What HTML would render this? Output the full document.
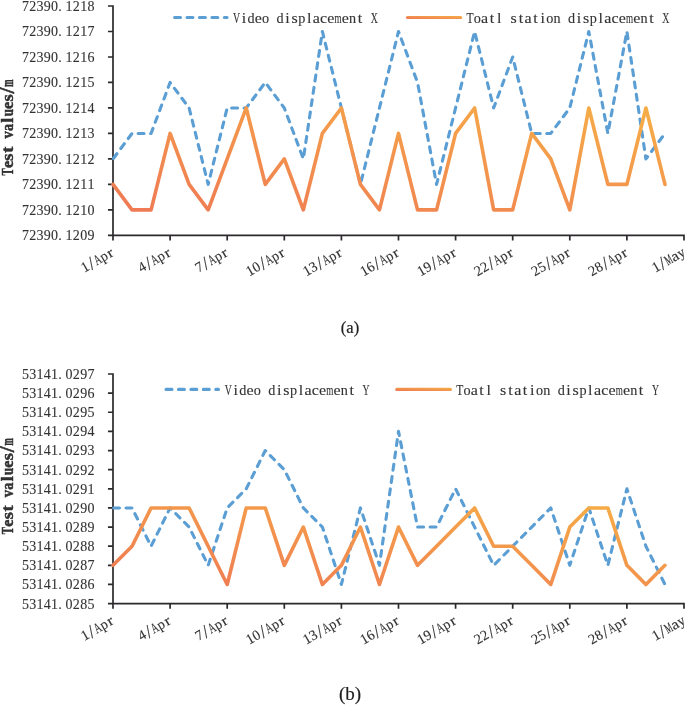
<!DOCTYPE html><html><head><meta charset="utf-8"><title>Displacement charts</title>
<style>html,body{margin:0;padding:0;background:#fff;}svg{display:block;}text{font-family:"Liberation Serif","Noto Serif CJK SC",serif;fill:#333333;}</style></head><body>
<svg width="685" height="706" viewBox="0 0 685 706">
<defs><linearGradient id="og" x1="0" y1="1" x2="1" y2="0"><stop offset="0" stop-color="#EF7954"/><stop offset="1" stop-color="#F6AE46"/></linearGradient></defs>
<rect width="685" height="706" fill="#fff"/>
<g transform="translate(94.56,240.30)" font-size="14" font-weight="normal" style="stroke:#333;stroke-width:0.1;"><text x="-72.66 -65.38 -58.10 -50.82 -43.54 -36.31 -28.98 -21.70 -14.42 -7.14" y="0 0 0 0 0 0 0 0 0 0">72390.1209</text></g>
<g transform="translate(94.56,214.81)" font-size="14" font-weight="normal" style="stroke:#333;stroke-width:0.1;"><text x="-72.66 -65.38 -58.10 -50.82 -43.54 -36.31 -28.98 -21.70 -14.42 -7.14" y="0 0 0 0 0 0 0 0 0 0">72390.1210</text></g>
<g transform="translate(94.56,189.32)" font-size="14" font-weight="normal" style="stroke:#333;stroke-width:0.1;"><text x="-72.66 -65.38 -58.10 -50.82 -43.54 -36.31 -28.98 -21.70 -14.42 -7.14" y="0 0 0 0 0 0 0 0 0 0">72390.1211</text></g>
<g transform="translate(94.56,163.83)" font-size="14" font-weight="normal" style="stroke:#333;stroke-width:0.1;"><text x="-72.66 -65.38 -58.10 -50.82 -43.54 -36.31 -28.98 -21.70 -14.42 -7.14" y="0 0 0 0 0 0 0 0 0 0">72390.1212</text></g>
<g transform="translate(94.56,138.34)" font-size="14" font-weight="normal" style="stroke:#333;stroke-width:0.1;"><text x="-72.66 -65.38 -58.10 -50.82 -43.54 -36.31 -28.98 -21.70 -14.42 -7.14" y="0 0 0 0 0 0 0 0 0 0">72390.1213</text></g>
<g transform="translate(94.56,112.86)" font-size="14" font-weight="normal" style="stroke:#333;stroke-width:0.1;"><text x="-72.66 -65.38 -58.10 -50.82 -43.54 -36.31 -28.98 -21.70 -14.42 -7.14" y="0 0 0 0 0 0 0 0 0 0">72390.1214</text></g>
<g transform="translate(94.56,87.37)" font-size="14" font-weight="normal" style="stroke:#333;stroke-width:0.1;"><text x="-72.66 -65.38 -58.10 -50.82 -43.54 -36.31 -28.98 -21.70 -14.42 -7.14" y="0 0 0 0 0 0 0 0 0 0">72390.1215</text></g>
<g transform="translate(94.56,61.88)" font-size="14" font-weight="normal" style="stroke:#333;stroke-width:0.1;"><text x="-72.66 -65.38 -58.10 -50.82 -43.54 -36.31 -28.98 -21.70 -14.42 -7.14" y="0 0 0 0 0 0 0 0 0 0">72390.1216</text></g>
<g transform="translate(94.56,36.39)" font-size="14" font-weight="normal" style="stroke:#333;stroke-width:0.1;"><text x="-72.66 -65.38 -58.10 -50.82 -43.54 -36.31 -28.98 -21.70 -14.42 -7.14" y="0 0 0 0 0 0 0 0 0 0">72390.1217</text></g>
<g transform="translate(94.56,10.90)" font-size="14" font-weight="normal" style="stroke:#333;stroke-width:0.1;"><text x="-72.66 -65.38 -58.10 -50.82 -43.54 -36.31 -28.98 -21.70 -14.42 -7.14" y="0 0 0 0 0 0 0 0 0 0">72390.1218</text></g>
<g transform="translate(12.60,127.50) rotate(-90) scale(1.15,1)" font-size="16" font-weight="bold" style="fill:#262626;stroke:#262626;stroke-width:0.45;"><text x="-41.76 -35.33 -28.85 -21.97 -14.87 -9.59 -3.15 4.21 9.72 16.15 22.63 29.62 35.46" y="0 0 0 0 0 0 0 0 0 0 0 1.76 0"><tspan textLength="6.31" lengthAdjust="spacingAndGlyphs">T</tspan><tspan textLength="6.31" lengthAdjust="spacingAndGlyphs">e</tspan>st <tspan textLength="6.31" lengthAdjust="spacingAndGlyphs">v</tspan><tspan textLength="6.31" lengthAdjust="spacingAndGlyphs">a</tspan>l<tspan textLength="6.31" lengthAdjust="spacingAndGlyphs">u</tspan><tspan textLength="6.31" lengthAdjust="spacingAndGlyphs">e</tspan>s<tspan font-size="21.12" textLength="5.11" lengthAdjust="spacingAndGlyphs">/</tspan><tspan textLength="6.31" lengthAdjust="spacingAndGlyphs">m</tspan></text></g>
<path d="M113,6.00 V239.60 M108.8,235.40 H684 M108.8,235.40 H113 M108.8,209.91 H113 M108.8,184.42 H113 M108.8,158.93 H113 M108.8,133.44 H113 M108.8,107.96 H113 M108.8,82.47 H113 M108.8,56.98 H113 M108.8,31.49 H113 M108.8,6.00 H113 M113.00,235.40 V239.60 M170.10,235.40 V239.60 M227.20,235.40 V239.60 M284.30,235.40 V239.60 M341.40,235.40 V239.60 M398.50,235.40 V239.60 M455.59,235.40 V239.60 M512.69,235.40 V239.60 M569.79,235.40 V239.60 M626.89,235.40 V239.60 M683.99,235.40 V239.60" stroke="#2c292c" stroke-width="1.7" fill="none" stroke-linecap="square"/>
<g transform="translate(115.50,254.76) rotate(-30) scale(1.12,1)" font-size="14.3" font-weight="normal" style="stroke:#333;stroke-width:0.12;"><text x="-32.30 -24.94 -19.35 -12.88 -5.62" y="0 1.57 0 0 0"><tspan textLength="6.34" lengthAdjust="spacingAndGlyphs">1</tspan><tspan font-size="18.876" textLength="4.57" lengthAdjust="spacingAndGlyphs">/</tspan><tspan textLength="6.34" lengthAdjust="spacingAndGlyphs">A</tspan><tspan textLength="6.34" lengthAdjust="spacingAndGlyphs">p</tspan>r</text></g>
<g transform="translate(172.60,254.76) rotate(-30) scale(1.12,1)" font-size="14.3" font-weight="normal" style="stroke:#333;stroke-width:0.12;"><text x="-32.30 -24.94 -19.35 -12.88 -5.62" y="0 1.57 0 0 0"><tspan textLength="6.34" lengthAdjust="spacingAndGlyphs">4</tspan><tspan font-size="18.876" textLength="4.57" lengthAdjust="spacingAndGlyphs">/</tspan><tspan textLength="6.34" lengthAdjust="spacingAndGlyphs">A</tspan><tspan textLength="6.34" lengthAdjust="spacingAndGlyphs">p</tspan>r</text></g>
<g transform="translate(229.70,254.76) rotate(-30) scale(1.12,1)" font-size="14.3" font-weight="normal" style="stroke:#333;stroke-width:0.12;"><text x="-32.30 -24.94 -19.35 -12.88 -5.62" y="0 1.57 0 0 0"><tspan textLength="6.34" lengthAdjust="spacingAndGlyphs">7</tspan><tspan font-size="18.876" textLength="4.57" lengthAdjust="spacingAndGlyphs">/</tspan><tspan textLength="6.34" lengthAdjust="spacingAndGlyphs">A</tspan><tspan textLength="6.34" lengthAdjust="spacingAndGlyphs">p</tspan>r</text></g>
<g transform="translate(286.80,254.76) rotate(-30) scale(1.12,1)" font-size="14.3" font-weight="normal" style="stroke:#333;stroke-width:0.12;"><text x="-38.77 -32.30 -24.94 -19.35 -12.88 -5.62" y="0 0 1.57 0 0 0"><tspan textLength="6.34" lengthAdjust="spacingAndGlyphs">1</tspan><tspan textLength="6.34" lengthAdjust="spacingAndGlyphs">0</tspan><tspan font-size="18.876" textLength="4.57" lengthAdjust="spacingAndGlyphs">/</tspan><tspan textLength="6.34" lengthAdjust="spacingAndGlyphs">A</tspan><tspan textLength="6.34" lengthAdjust="spacingAndGlyphs">p</tspan>r</text></g>
<g transform="translate(343.90,254.76) rotate(-30) scale(1.12,1)" font-size="14.3" font-weight="normal" style="stroke:#333;stroke-width:0.12;"><text x="-38.77 -32.30 -24.94 -19.35 -12.88 -5.62" y="0 0 1.57 0 0 0"><tspan textLength="6.34" lengthAdjust="spacingAndGlyphs">1</tspan><tspan textLength="6.34" lengthAdjust="spacingAndGlyphs">3</tspan><tspan font-size="18.876" textLength="4.57" lengthAdjust="spacingAndGlyphs">/</tspan><tspan textLength="6.34" lengthAdjust="spacingAndGlyphs">A</tspan><tspan textLength="6.34" lengthAdjust="spacingAndGlyphs">p</tspan>r</text></g>
<g transform="translate(401.00,254.76) rotate(-30) scale(1.12,1)" font-size="14.3" font-weight="normal" style="stroke:#333;stroke-width:0.12;"><text x="-38.77 -32.30 -24.94 -19.35 -12.88 -5.62" y="0 0 1.57 0 0 0"><tspan textLength="6.34" lengthAdjust="spacingAndGlyphs">1</tspan><tspan textLength="6.34" lengthAdjust="spacingAndGlyphs">6</tspan><tspan font-size="18.876" textLength="4.57" lengthAdjust="spacingAndGlyphs">/</tspan><tspan textLength="6.34" lengthAdjust="spacingAndGlyphs">A</tspan><tspan textLength="6.34" lengthAdjust="spacingAndGlyphs">p</tspan>r</text></g>
<g transform="translate(458.09,254.76) rotate(-30) scale(1.12,1)" font-size="14.3" font-weight="normal" style="stroke:#333;stroke-width:0.12;"><text x="-38.77 -32.30 -24.94 -19.35 -12.88 -5.62" y="0 0 1.57 0 0 0"><tspan textLength="6.34" lengthAdjust="spacingAndGlyphs">1</tspan><tspan textLength="6.34" lengthAdjust="spacingAndGlyphs">9</tspan><tspan font-size="18.876" textLength="4.57" lengthAdjust="spacingAndGlyphs">/</tspan><tspan textLength="6.34" lengthAdjust="spacingAndGlyphs">A</tspan><tspan textLength="6.34" lengthAdjust="spacingAndGlyphs">p</tspan>r</text></g>
<g transform="translate(515.19,254.76) rotate(-30) scale(1.12,1)" font-size="14.3" font-weight="normal" style="stroke:#333;stroke-width:0.12;"><text x="-38.77 -32.30 -24.94 -19.35 -12.88 -5.62" y="0 0 1.57 0 0 0"><tspan textLength="6.34" lengthAdjust="spacingAndGlyphs">2</tspan><tspan textLength="6.34" lengthAdjust="spacingAndGlyphs">2</tspan><tspan font-size="18.876" textLength="4.57" lengthAdjust="spacingAndGlyphs">/</tspan><tspan textLength="6.34" lengthAdjust="spacingAndGlyphs">A</tspan><tspan textLength="6.34" lengthAdjust="spacingAndGlyphs">p</tspan>r</text></g>
<g transform="translate(572.29,254.76) rotate(-30) scale(1.12,1)" font-size="14.3" font-weight="normal" style="stroke:#333;stroke-width:0.12;"><text x="-38.77 -32.30 -24.94 -19.35 -12.88 -5.62" y="0 0 1.57 0 0 0"><tspan textLength="6.34" lengthAdjust="spacingAndGlyphs">2</tspan><tspan textLength="6.34" lengthAdjust="spacingAndGlyphs">5</tspan><tspan font-size="18.876" textLength="4.57" lengthAdjust="spacingAndGlyphs">/</tspan><tspan textLength="6.34" lengthAdjust="spacingAndGlyphs">A</tspan><tspan textLength="6.34" lengthAdjust="spacingAndGlyphs">p</tspan>r</text></g>
<g transform="translate(629.39,254.76) rotate(-30) scale(1.12,1)" font-size="14.3" font-weight="normal" style="stroke:#333;stroke-width:0.12;"><text x="-38.77 -32.30 -24.94 -19.35 -12.88 -5.62" y="0 0 1.57 0 0 0"><tspan textLength="6.34" lengthAdjust="spacingAndGlyphs">2</tspan><tspan textLength="6.34" lengthAdjust="spacingAndGlyphs">8</tspan><tspan font-size="18.876" textLength="4.57" lengthAdjust="spacingAndGlyphs">/</tspan><tspan textLength="6.34" lengthAdjust="spacingAndGlyphs">A</tspan><tspan textLength="6.34" lengthAdjust="spacingAndGlyphs">p</tspan>r</text></g>
<g transform="translate(686.49,254.76) rotate(-30) scale(1.12,1)" font-size="14.3" font-weight="normal" style="stroke:#333;stroke-width:0.12;"><text x="-32.30 -24.94 -19.35 -12.88 -6.41" y="0 1.57 0 0 0"><tspan textLength="6.34" lengthAdjust="spacingAndGlyphs">1</tspan><tspan font-size="18.876" textLength="4.57" lengthAdjust="spacingAndGlyphs">/</tspan><tspan textLength="6.34" lengthAdjust="spacingAndGlyphs">M</tspan><tspan textLength="6.34" lengthAdjust="spacingAndGlyphs">a</tspan><tspan textLength="6.34" lengthAdjust="spacingAndGlyphs">y</tspan></text></g>
<polyline points="113.00,158.93 132.03,133.44 151.07,133.44 170.10,82.47 189.13,107.96 208.17,184.42 227.20,107.96 246.23,107.96 265.26,82.47 284.30,107.96 303.33,158.93 322.36,31.49 341.40,107.96 360.43,184.42 379.46,107.96 398.50,31.49 417.53,82.47 436.56,184.42 455.59,107.96 474.63,31.49 493.66,107.96 512.69,56.98 531.73,133.44 550.76,133.44 569.79,107.96 588.83,31.49 607.86,133.44 626.89,31.49 645.92,158.93 664.96,133.44" fill="none" stroke="#5A9ED4" stroke-width="3.1" stroke-linejoin="round" stroke-linecap="round" stroke-dasharray="5.9 6.538" stroke-dashoffset="-0.6"/>
<polyline points="113.00,184.42 132.03,209.91 151.07,209.91 170.10,133.44 189.13,184.42 208.17,209.91 227.20,158.93 246.23,107.96 265.26,184.42 284.30,158.93 303.33,209.91 322.36,133.44 341.40,107.96 360.43,184.42 379.46,209.91 398.50,133.44 417.53,209.91 436.56,209.91 455.59,133.44 474.63,107.96 493.66,209.91 512.69,209.91 531.73,133.44 550.76,158.93 569.79,209.91 588.83,107.96 607.86,184.42 626.89,184.42 645.92,107.96 664.96,184.42" fill="none" stroke="url(#og)" stroke-width="3.6" stroke-linejoin="round" stroke-linecap="round"/>
<path d="M174.60,17.50 H227.05" stroke="#5A9ED4" stroke-width="3.1" stroke-linecap="round" stroke-dasharray="5.9 6.538"/>
<g transform="translate(233.00,22.80) scale(1.12,1)" font-size="14.3" font-weight="normal" style="stroke:#333;stroke-width:0.12;"><text x="0.06 7.72 13.01 19.48 25.96 33.82 38.90 46.56 52.24 58.32 65.98 71.27 77.74 84.22 90.69 97.16 103.64 111.29 117.97 123.06" y="0 0 0 0 0 0 0 0 0 0 0 0 0 0 0 0 0 0 0 0"><tspan textLength="6.34" lengthAdjust="spacingAndGlyphs">V</tspan>i<tspan textLength="6.34" lengthAdjust="spacingAndGlyphs">d</tspan><tspan textLength="6.34" lengthAdjust="spacingAndGlyphs">e</tspan><tspan textLength="6.34" lengthAdjust="spacingAndGlyphs">o</tspan> <tspan textLength="6.34" lengthAdjust="spacingAndGlyphs">d</tspan>is<tspan textLength="6.34" lengthAdjust="spacingAndGlyphs">p</tspan>l<tspan textLength="6.34" lengthAdjust="spacingAndGlyphs">a</tspan><tspan textLength="6.34" lengthAdjust="spacingAndGlyphs">c</tspan><tspan textLength="6.34" lengthAdjust="spacingAndGlyphs">e</tspan><tspan textLength="6.34" lengthAdjust="spacingAndGlyphs">m</tspan><tspan textLength="6.34" lengthAdjust="spacingAndGlyphs">e</tspan><tspan textLength="6.34" lengthAdjust="spacingAndGlyphs">n</tspan>t <tspan textLength="6.34" lengthAdjust="spacingAndGlyphs">X</tspan></text></g>
<rect x="405.90" y="15.90" width="56.30" height="3.2" rx="1.6" fill="url(#og)"/>
<g transform="translate(466.50,22.80) scale(1.12,1)" font-size="14.3" font-weight="normal" style="stroke:#333;stroke-width:0.12;"><text x="0.06 6.54 13.01 20.67 27.14 33.82 39.29 46.56 51.85 59.51 65.98 71.27 77.74 85.60 90.69 98.35 104.03 110.11 117.77 123.06 129.53 136.00 142.48 148.95 155.42 163.08 169.75 174.84" y="0 0 0 0 0 0 0 0 0 0 0 0 0 0 0 0 0 0 0 0 0 0 0 0 0 0 0 0"><tspan textLength="6.34" lengthAdjust="spacingAndGlyphs">T</tspan><tspan textLength="6.34" lengthAdjust="spacingAndGlyphs">o</tspan><tspan textLength="6.34" lengthAdjust="spacingAndGlyphs">a</tspan>tl st<tspan textLength="6.34" lengthAdjust="spacingAndGlyphs">a</tspan>ti<tspan textLength="6.34" lengthAdjust="spacingAndGlyphs">o</tspan><tspan textLength="6.34" lengthAdjust="spacingAndGlyphs">n</tspan> <tspan textLength="6.34" lengthAdjust="spacingAndGlyphs">d</tspan>is<tspan textLength="6.34" lengthAdjust="spacingAndGlyphs">p</tspan>l<tspan textLength="6.34" lengthAdjust="spacingAndGlyphs">a</tspan><tspan textLength="6.34" lengthAdjust="spacingAndGlyphs">c</tspan><tspan textLength="6.34" lengthAdjust="spacingAndGlyphs">e</tspan><tspan textLength="6.34" lengthAdjust="spacingAndGlyphs">m</tspan><tspan textLength="6.34" lengthAdjust="spacingAndGlyphs">e</tspan><tspan textLength="6.34" lengthAdjust="spacingAndGlyphs">n</tspan>t <tspan textLength="6.34" lengthAdjust="spacingAndGlyphs">X</tspan></text></g>
<text x="350" y="333.4" font-size="16.6" text-anchor="middle" style="fill:#1e1e1e;stroke:#1e1e1e;stroke-width:0.2">(a)</text>
<g transform="translate(94.56,608.50)" font-size="14" font-weight="normal" style="stroke:#333;stroke-width:0.1;"><text x="-72.66 -65.38 -58.10 -50.82 -43.54 -36.31 -28.98 -21.70 -14.42 -7.14" y="0 0 0 0 0 0 0 0 0 0">53141.0285</text></g>
<g transform="translate(94.56,589.37)" font-size="14" font-weight="normal" style="stroke:#333;stroke-width:0.1;"><text x="-72.66 -65.38 -58.10 -50.82 -43.54 -36.31 -28.98 -21.70 -14.42 -7.14" y="0 0 0 0 0 0 0 0 0 0">53141.0286</text></g>
<g transform="translate(94.56,570.23)" font-size="14" font-weight="normal" style="stroke:#333;stroke-width:0.1;"><text x="-72.66 -65.38 -58.10 -50.82 -43.54 -36.31 -28.98 -21.70 -14.42 -7.14" y="0 0 0 0 0 0 0 0 0 0">53141.0287</text></g>
<g transform="translate(94.56,551.10)" font-size="14" font-weight="normal" style="stroke:#333;stroke-width:0.1;"><text x="-72.66 -65.38 -58.10 -50.82 -43.54 -36.31 -28.98 -21.70 -14.42 -7.14" y="0 0 0 0 0 0 0 0 0 0">53141.0288</text></g>
<g transform="translate(94.56,531.97)" font-size="14" font-weight="normal" style="stroke:#333;stroke-width:0.1;"><text x="-72.66 -65.38 -58.10 -50.82 -43.54 -36.31 -28.98 -21.70 -14.42 -7.14" y="0 0 0 0 0 0 0 0 0 0">53141.0289</text></g>
<g transform="translate(94.56,512.83)" font-size="14" font-weight="normal" style="stroke:#333;stroke-width:0.1;"><text x="-72.66 -65.38 -58.10 -50.82 -43.54 -36.31 -28.98 -21.70 -14.42 -7.14" y="0 0 0 0 0 0 0 0 0 0">53141.0290</text></g>
<g transform="translate(94.56,493.70)" font-size="14" font-weight="normal" style="stroke:#333;stroke-width:0.1;"><text x="-72.66 -65.38 -58.10 -50.82 -43.54 -36.31 -28.98 -21.70 -14.42 -7.14" y="0 0 0 0 0 0 0 0 0 0">53141.0291</text></g>
<g transform="translate(94.56,474.57)" font-size="14" font-weight="normal" style="stroke:#333;stroke-width:0.1;"><text x="-72.66 -65.38 -58.10 -50.82 -43.54 -36.31 -28.98 -21.70 -14.42 -7.14" y="0 0 0 0 0 0 0 0 0 0">53141.0292</text></g>
<g transform="translate(94.56,455.43)" font-size="14" font-weight="normal" style="stroke:#333;stroke-width:0.1;"><text x="-72.66 -65.38 -58.10 -50.82 -43.54 -36.31 -28.98 -21.70 -14.42 -7.14" y="0 0 0 0 0 0 0 0 0 0">53141.0293</text></g>
<g transform="translate(94.56,436.30)" font-size="14" font-weight="normal" style="stroke:#333;stroke-width:0.1;"><text x="-72.66 -65.38 -58.10 -50.82 -43.54 -36.31 -28.98 -21.70 -14.42 -7.14" y="0 0 0 0 0 0 0 0 0 0">53141.0294</text></g>
<g transform="translate(94.56,417.17)" font-size="14" font-weight="normal" style="stroke:#333;stroke-width:0.1;"><text x="-72.66 -65.38 -58.10 -50.82 -43.54 -36.31 -28.98 -21.70 -14.42 -7.14" y="0 0 0 0 0 0 0 0 0 0">53141.0295</text></g>
<g transform="translate(94.56,398.03)" font-size="14" font-weight="normal" style="stroke:#333;stroke-width:0.1;"><text x="-72.66 -65.38 -58.10 -50.82 -43.54 -36.31 -28.98 -21.70 -14.42 -7.14" y="0 0 0 0 0 0 0 0 0 0">53141.0296</text></g>
<g transform="translate(94.56,378.90)" font-size="14" font-weight="normal" style="stroke:#333;stroke-width:0.1;"><text x="-72.66 -65.38 -58.10 -50.82 -43.54 -36.31 -28.98 -21.70 -14.42 -7.14" y="0 0 0 0 0 0 0 0 0 0">53141.0297</text></g>
<g transform="translate(12.60,486.20) rotate(-90) scale(1.15,1)" font-size="16" font-weight="bold" style="fill:#262626;stroke:#262626;stroke-width:0.45;"><text x="-41.76 -35.33 -28.85 -21.97 -14.87 -9.59 -3.15 4.21 9.72 16.15 22.63 29.62 35.46" y="0 0 0 0 0 0 0 0 0 0 0 1.76 0"><tspan textLength="6.31" lengthAdjust="spacingAndGlyphs">T</tspan><tspan textLength="6.31" lengthAdjust="spacingAndGlyphs">e</tspan>st <tspan textLength="6.31" lengthAdjust="spacingAndGlyphs">v</tspan><tspan textLength="6.31" lengthAdjust="spacingAndGlyphs">a</tspan>l<tspan textLength="6.31" lengthAdjust="spacingAndGlyphs">u</tspan><tspan textLength="6.31" lengthAdjust="spacingAndGlyphs">e</tspan>s<tspan font-size="21.12" textLength="5.11" lengthAdjust="spacingAndGlyphs">/</tspan><tspan textLength="6.31" lengthAdjust="spacingAndGlyphs">m</tspan></text></g>
<path d="M113,374.00 V607.80 M108.8,603.60 H684 M108.8,603.60 H113 M108.8,584.47 H113 M108.8,565.33 H113 M108.8,546.20 H113 M108.8,527.07 H113 M108.8,507.93 H113 M108.8,488.80 H113 M108.8,469.67 H113 M108.8,450.53 H113 M108.8,431.40 H113 M108.8,412.27 H113 M108.8,393.13 H113 M108.8,374.00 H113 M113.00,603.60 V607.80 M170.10,603.60 V607.80 M227.20,603.60 V607.80 M284.30,603.60 V607.80 M341.40,603.60 V607.80 M398.50,603.60 V607.80 M455.59,603.60 V607.80 M512.69,603.60 V607.80 M569.79,603.60 V607.80 M626.89,603.60 V607.80 M683.99,603.60 V607.80" stroke="#2c292c" stroke-width="1.7" fill="none" stroke-linecap="square"/>
<g transform="translate(115.50,622.96) rotate(-30) scale(1.12,1)" font-size="14.3" font-weight="normal" style="stroke:#333;stroke-width:0.12;"><text x="-32.30 -24.94 -19.35 -12.88 -5.62" y="0 1.57 0 0 0"><tspan textLength="6.34" lengthAdjust="spacingAndGlyphs">1</tspan><tspan font-size="18.876" textLength="4.57" lengthAdjust="spacingAndGlyphs">/</tspan><tspan textLength="6.34" lengthAdjust="spacingAndGlyphs">A</tspan><tspan textLength="6.34" lengthAdjust="spacingAndGlyphs">p</tspan>r</text></g>
<g transform="translate(172.60,622.96) rotate(-30) scale(1.12,1)" font-size="14.3" font-weight="normal" style="stroke:#333;stroke-width:0.12;"><text x="-32.30 -24.94 -19.35 -12.88 -5.62" y="0 1.57 0 0 0"><tspan textLength="6.34" lengthAdjust="spacingAndGlyphs">4</tspan><tspan font-size="18.876" textLength="4.57" lengthAdjust="spacingAndGlyphs">/</tspan><tspan textLength="6.34" lengthAdjust="spacingAndGlyphs">A</tspan><tspan textLength="6.34" lengthAdjust="spacingAndGlyphs">p</tspan>r</text></g>
<g transform="translate(229.70,622.96) rotate(-30) scale(1.12,1)" font-size="14.3" font-weight="normal" style="stroke:#333;stroke-width:0.12;"><text x="-32.30 -24.94 -19.35 -12.88 -5.62" y="0 1.57 0 0 0"><tspan textLength="6.34" lengthAdjust="spacingAndGlyphs">7</tspan><tspan font-size="18.876" textLength="4.57" lengthAdjust="spacingAndGlyphs">/</tspan><tspan textLength="6.34" lengthAdjust="spacingAndGlyphs">A</tspan><tspan textLength="6.34" lengthAdjust="spacingAndGlyphs">p</tspan>r</text></g>
<g transform="translate(286.80,622.96) rotate(-30) scale(1.12,1)" font-size="14.3" font-weight="normal" style="stroke:#333;stroke-width:0.12;"><text x="-38.77 -32.30 -24.94 -19.35 -12.88 -5.62" y="0 0 1.57 0 0 0"><tspan textLength="6.34" lengthAdjust="spacingAndGlyphs">1</tspan><tspan textLength="6.34" lengthAdjust="spacingAndGlyphs">0</tspan><tspan font-size="18.876" textLength="4.57" lengthAdjust="spacingAndGlyphs">/</tspan><tspan textLength="6.34" lengthAdjust="spacingAndGlyphs">A</tspan><tspan textLength="6.34" lengthAdjust="spacingAndGlyphs">p</tspan>r</text></g>
<g transform="translate(343.90,622.96) rotate(-30) scale(1.12,1)" font-size="14.3" font-weight="normal" style="stroke:#333;stroke-width:0.12;"><text x="-38.77 -32.30 -24.94 -19.35 -12.88 -5.62" y="0 0 1.57 0 0 0"><tspan textLength="6.34" lengthAdjust="spacingAndGlyphs">1</tspan><tspan textLength="6.34" lengthAdjust="spacingAndGlyphs">3</tspan><tspan font-size="18.876" textLength="4.57" lengthAdjust="spacingAndGlyphs">/</tspan><tspan textLength="6.34" lengthAdjust="spacingAndGlyphs">A</tspan><tspan textLength="6.34" lengthAdjust="spacingAndGlyphs">p</tspan>r</text></g>
<g transform="translate(401.00,622.96) rotate(-30) scale(1.12,1)" font-size="14.3" font-weight="normal" style="stroke:#333;stroke-width:0.12;"><text x="-38.77 -32.30 -24.94 -19.35 -12.88 -5.62" y="0 0 1.57 0 0 0"><tspan textLength="6.34" lengthAdjust="spacingAndGlyphs">1</tspan><tspan textLength="6.34" lengthAdjust="spacingAndGlyphs">6</tspan><tspan font-size="18.876" textLength="4.57" lengthAdjust="spacingAndGlyphs">/</tspan><tspan textLength="6.34" lengthAdjust="spacingAndGlyphs">A</tspan><tspan textLength="6.34" lengthAdjust="spacingAndGlyphs">p</tspan>r</text></g>
<g transform="translate(458.09,622.96) rotate(-30) scale(1.12,1)" font-size="14.3" font-weight="normal" style="stroke:#333;stroke-width:0.12;"><text x="-38.77 -32.30 -24.94 -19.35 -12.88 -5.62" y="0 0 1.57 0 0 0"><tspan textLength="6.34" lengthAdjust="spacingAndGlyphs">1</tspan><tspan textLength="6.34" lengthAdjust="spacingAndGlyphs">9</tspan><tspan font-size="18.876" textLength="4.57" lengthAdjust="spacingAndGlyphs">/</tspan><tspan textLength="6.34" lengthAdjust="spacingAndGlyphs">A</tspan><tspan textLength="6.34" lengthAdjust="spacingAndGlyphs">p</tspan>r</text></g>
<g transform="translate(515.19,622.96) rotate(-30) scale(1.12,1)" font-size="14.3" font-weight="normal" style="stroke:#333;stroke-width:0.12;"><text x="-38.77 -32.30 -24.94 -19.35 -12.88 -5.62" y="0 0 1.57 0 0 0"><tspan textLength="6.34" lengthAdjust="spacingAndGlyphs">2</tspan><tspan textLength="6.34" lengthAdjust="spacingAndGlyphs">2</tspan><tspan font-size="18.876" textLength="4.57" lengthAdjust="spacingAndGlyphs">/</tspan><tspan textLength="6.34" lengthAdjust="spacingAndGlyphs">A</tspan><tspan textLength="6.34" lengthAdjust="spacingAndGlyphs">p</tspan>r</text></g>
<g transform="translate(572.29,622.96) rotate(-30) scale(1.12,1)" font-size="14.3" font-weight="normal" style="stroke:#333;stroke-width:0.12;"><text x="-38.77 -32.30 -24.94 -19.35 -12.88 -5.62" y="0 0 1.57 0 0 0"><tspan textLength="6.34" lengthAdjust="spacingAndGlyphs">2</tspan><tspan textLength="6.34" lengthAdjust="spacingAndGlyphs">5</tspan><tspan font-size="18.876" textLength="4.57" lengthAdjust="spacingAndGlyphs">/</tspan><tspan textLength="6.34" lengthAdjust="spacingAndGlyphs">A</tspan><tspan textLength="6.34" lengthAdjust="spacingAndGlyphs">p</tspan>r</text></g>
<g transform="translate(629.39,622.96) rotate(-30) scale(1.12,1)" font-size="14.3" font-weight="normal" style="stroke:#333;stroke-width:0.12;"><text x="-38.77 -32.30 -24.94 -19.35 -12.88 -5.62" y="0 0 1.57 0 0 0"><tspan textLength="6.34" lengthAdjust="spacingAndGlyphs">2</tspan><tspan textLength="6.34" lengthAdjust="spacingAndGlyphs">8</tspan><tspan font-size="18.876" textLength="4.57" lengthAdjust="spacingAndGlyphs">/</tspan><tspan textLength="6.34" lengthAdjust="spacingAndGlyphs">A</tspan><tspan textLength="6.34" lengthAdjust="spacingAndGlyphs">p</tspan>r</text></g>
<g transform="translate(686.49,622.96) rotate(-30) scale(1.12,1)" font-size="14.3" font-weight="normal" style="stroke:#333;stroke-width:0.12;"><text x="-32.30 -24.94 -19.35 -12.88 -6.41" y="0 1.57 0 0 0"><tspan textLength="6.34" lengthAdjust="spacingAndGlyphs">1</tspan><tspan font-size="18.876" textLength="4.57" lengthAdjust="spacingAndGlyphs">/</tspan><tspan textLength="6.34" lengthAdjust="spacingAndGlyphs">M</tspan><tspan textLength="6.34" lengthAdjust="spacingAndGlyphs">a</tspan><tspan textLength="6.34" lengthAdjust="spacingAndGlyphs">y</tspan></text></g>
<polyline points="113.00,507.93 132.03,507.93 151.07,546.20 170.10,507.93 189.13,527.07 208.17,565.33 227.20,507.93 246.23,488.80 265.26,450.53 284.30,469.67 303.33,507.93 322.36,527.07 341.40,584.47 360.43,507.93 379.46,565.33 398.50,431.40 417.53,527.07 436.56,527.07 455.59,488.80 474.63,527.07 493.66,565.33 512.69,546.20 531.73,527.07 550.76,507.93 569.79,565.33 588.83,507.93 607.86,565.33 626.89,488.80 645.92,546.20 664.96,584.47" fill="none" stroke="#5A9ED4" stroke-width="3.1" stroke-linejoin="round" stroke-linecap="round" stroke-dasharray="5.9 6.538" stroke-dashoffset="-0.6"/>
<polyline points="113.00,565.33 132.03,546.20 151.07,507.93 170.10,507.93 189.13,507.93 208.17,546.20 227.20,584.47 246.23,507.93 265.26,507.93 284.30,565.33 303.33,527.07 322.36,584.47 341.40,565.33 360.43,527.07 379.46,584.47 398.50,527.07 417.53,565.33 436.56,546.20 455.59,527.07 474.63,507.93 493.66,546.20 512.69,546.20 531.73,565.33 550.76,584.47 569.79,527.07 588.83,507.93 607.86,507.93 626.89,565.33 645.92,584.47 664.96,565.33" fill="none" stroke="url(#og)" stroke-width="3.6" stroke-linejoin="round" stroke-linecap="round"/>
<path d="M166.05,389.40 H218.45" stroke="#5A9ED4" stroke-width="3.1" stroke-linecap="round" stroke-dasharray="5.9 6.538"/>
<g transform="translate(224.80,394.70) scale(1.12,1)" font-size="14.3" font-weight="normal" style="stroke:#333;stroke-width:0.12;"><text x="0.06 7.72 13.01 19.48 25.96 33.82 38.90 46.56 52.24 58.32 65.98 71.27 77.74 84.22 90.69 97.16 103.64 111.29 117.97 123.06" y="0 0 0 0 0 0 0 0 0 0 0 0 0 0 0 0 0 0 0 0"><tspan textLength="6.34" lengthAdjust="spacingAndGlyphs">V</tspan>i<tspan textLength="6.34" lengthAdjust="spacingAndGlyphs">d</tspan><tspan textLength="6.34" lengthAdjust="spacingAndGlyphs">e</tspan><tspan textLength="6.34" lengthAdjust="spacingAndGlyphs">o</tspan> <tspan textLength="6.34" lengthAdjust="spacingAndGlyphs">d</tspan>is<tspan textLength="6.34" lengthAdjust="spacingAndGlyphs">p</tspan>l<tspan textLength="6.34" lengthAdjust="spacingAndGlyphs">a</tspan><tspan textLength="6.34" lengthAdjust="spacingAndGlyphs">c</tspan><tspan textLength="6.34" lengthAdjust="spacingAndGlyphs">e</tspan><tspan textLength="6.34" lengthAdjust="spacingAndGlyphs">m</tspan><tspan textLength="6.34" lengthAdjust="spacingAndGlyphs">e</tspan><tspan textLength="6.34" lengthAdjust="spacingAndGlyphs">n</tspan>t <tspan textLength="6.34" lengthAdjust="spacingAndGlyphs">Y</tspan></text></g>
<rect x="395.20" y="387.80" width="56.70" height="3.2" rx="1.6" fill="url(#og)"/>
<g transform="translate(456.10,394.70) scale(1.12,1)" font-size="14.3" font-weight="normal" style="stroke:#333;stroke-width:0.12;"><text x="0.06 6.54 13.01 20.67 27.14 33.82 39.29 46.56 51.85 59.51 65.98 71.27 77.74 85.60 90.69 98.35 104.03 110.11 117.77 123.06 129.53 136.00 142.48 148.95 155.42 163.08 169.75 174.84" y="0 0 0 0 0 0 0 0 0 0 0 0 0 0 0 0 0 0 0 0 0 0 0 0 0 0 0 0"><tspan textLength="6.34" lengthAdjust="spacingAndGlyphs">T</tspan><tspan textLength="6.34" lengthAdjust="spacingAndGlyphs">o</tspan><tspan textLength="6.34" lengthAdjust="spacingAndGlyphs">a</tspan>tl st<tspan textLength="6.34" lengthAdjust="spacingAndGlyphs">a</tspan>ti<tspan textLength="6.34" lengthAdjust="spacingAndGlyphs">o</tspan><tspan textLength="6.34" lengthAdjust="spacingAndGlyphs">n</tspan> <tspan textLength="6.34" lengthAdjust="spacingAndGlyphs">d</tspan>is<tspan textLength="6.34" lengthAdjust="spacingAndGlyphs">p</tspan>l<tspan textLength="6.34" lengthAdjust="spacingAndGlyphs">a</tspan><tspan textLength="6.34" lengthAdjust="spacingAndGlyphs">c</tspan><tspan textLength="6.34" lengthAdjust="spacingAndGlyphs">e</tspan><tspan textLength="6.34" lengthAdjust="spacingAndGlyphs">m</tspan><tspan textLength="6.34" lengthAdjust="spacingAndGlyphs">e</tspan><tspan textLength="6.34" lengthAdjust="spacingAndGlyphs">n</tspan>t <tspan textLength="6.34" lengthAdjust="spacingAndGlyphs">Y</tspan></text></g>
<text x="350" y="699.9" font-size="19" text-anchor="middle" style="fill:#1e1e1e;stroke:#1e1e1e;stroke-width:0.2">(b)</text>
</svg></body></html>
